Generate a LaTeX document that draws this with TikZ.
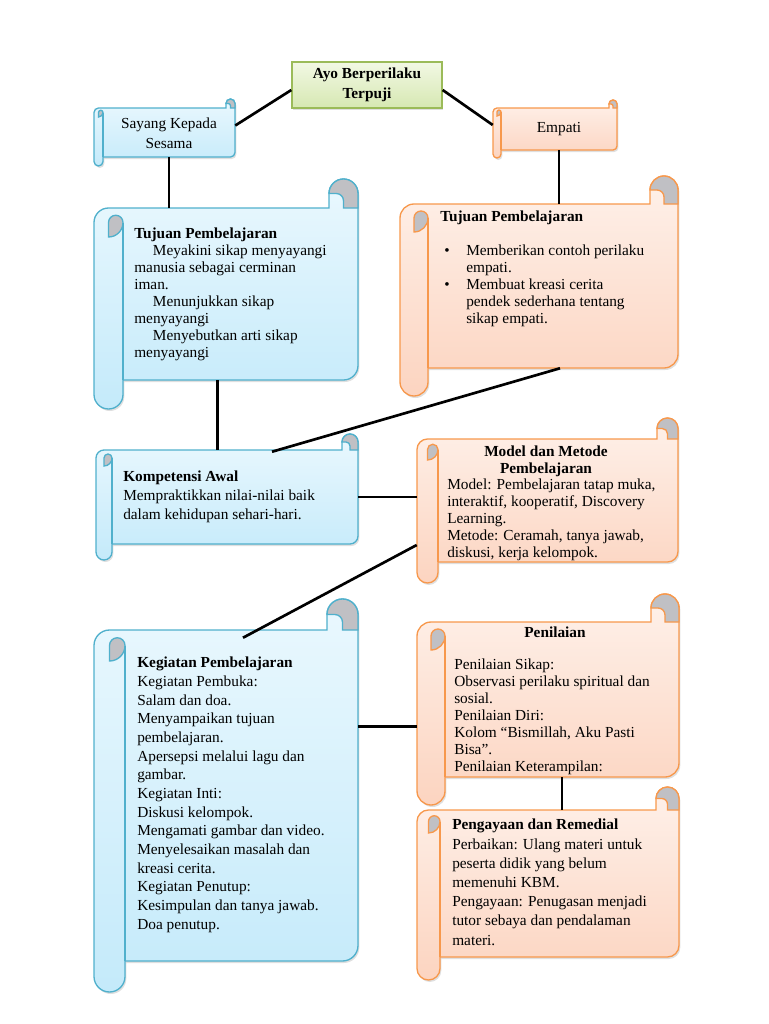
\documentclass[tikz,border=0pt]{standalone}
\usepackage{fontspec}
\setmainfont{Liberation Serif}
\usepackage{tikz}
\usetikzlibrary{positioning, calc, fit, shadows}

\definecolor{blueline}{RGB}{80,176,204}
\definecolor{bluetop}{RGB}{234,248,254}
\definecolor{bluebot}{RGB}{196,234,250}
\definecolor{orangeline}{RGB}{247,152,76}
\definecolor{orangetop}{RGB}{254,241,234}
\definecolor{orangebot}{RGB}{252,212,192}
\definecolor{greenline}{RGB}{155,187,89}
\definecolor{greentop}{RGB}{242,248,228}
\definecolor{greenbot}{RGB}{214,232,178}
\definecolor{curl}{RGB}{192,192,196}

\tikzset{
	link/.style={line width=2pt, black},
	rim/.style={line width=1pt},
	txt/.style={inner sep=0pt, anchor=north west, align=left, font=\fontsize{11.5}{#1}\selectfont},
	head/.style={inner sep=0pt, anchor=north, align=center, font=\fontsize{11.5}{#1}\selectfont\bfseries},
	titlebox/.style={draw=greenline, rim, top color=greentop, bottom color=greenbot, align=center, font=\fontsize{11.5}{15}\selectfont\bfseries, drop shadow={opacity=0.25, shadow xshift=1pt, shadow yshift=-1.5pt}},
}

% horizontal scroll: name, left, top, right, bottom, roll size, colour
\newcommand{\scrollbox}[7]{%
	\pgfmathsetmacro{\sbH}{#6/2}
	\pgfmathsetmacro{\sbQ}{#6/4}
	\pgfmathsetmacro{\sbYa}{-(#3+#6/2)}
	\pgfmathsetmacro{\sbYn}{-(#3+#6*0.75)}
	\pgfmathsetmacro{\sbYb}{-(#3+#6)}
	\pgfmathsetmacro{\sbYc}{-(#3+1.5*#6)}
	\pgfmathsetmacro{\sbYd}{-(#3+2*#6)}
	\pgfmathsetmacro{\sbYe}{-(#5-#6)}
	\pgfmathsetmacro{\sbYf}{-(#5-#6/2)}
	\pgfmathsetmacro{\sbYg}{-(#5-1.5*#6)}
	\pgfmathsetmacro{\sbXa}{#2+#6/2}
	\pgfmathsetmacro{\sbXb}{#2+#6}
	\pgfmathsetmacro{\sbXc}{#4-#6}
	\pgfmathsetmacro{\sbXd}{#4-#6/2}
	\path[rim, draw=#7line, top color=#7top, bottom color=#7bot, drop shadow={opacity=0.25, shadow xshift=1pt, shadow yshift=-1.5pt}]
		(#2,\sbYc) arc (180:90:\sbH) -- (\sbXc,\sbYb) -- (\sbXc,\sbYa) arc (180:0:\sbH)
		-- (#4,\sbYg) arc (0:-90:\sbH) -- (\sbXb,\sbYe) -- (\sbXb,\sbYf) arc (0:-180:\sbH) -- cycle;
	\draw[rim, draw=#7line, fill=curl] (\sbXc,\sbYa) arc (180:0:\sbH) -- (#4,\sbYb) -- (\sbXd,\sbYb) -- (\sbXd,\sbYn) arc (0:90:\sbQ) -- cycle;
	\draw[rim, draw=#7line, fill=curl] (\sbXa,\sbYd) -- (\sbXa,\sbYc) arc (180:0:\sbQ) -- (\sbXb,\sbYc) arc (0:-90:\sbH) -- cycle;
	\draw[rim, draw=#7line] (\sbXb,\sbYc) -- (\sbXb,\sbYe);
	\node[fit={(\sbXb,\sbYb) (#4,\sbYe)}, inner sep=0pt] (#1) {};
}

\begin{document}
\begin{tikzpicture}[x=0.75pt, y=0.75pt]
	\useasboundingbox (0,0) rectangle (768,-1024);

	\node[titlebox, minimum width=112.5pt, minimum height=34.5pt] (title) at (367,-85) {Ayo Berperilaku\\Terpuji};

	\scrollbox{sayang}{94}{99}{235}{166}{9}{blue}
	\node[align=center, font=\fontsize{11.5}{15}\selectfont] (sayang-text) at (169,-133) {Sayang Kepada\\Sesama};

	\scrollbox{empati}{493}{100}{617}{158}{8}{orange}
	\node[font=\fontsize{11.5}{15}\selectfont] (empati-text) at (559,-129) {Empati};

	\scrollbox{tujA}{94}{179}{358}{409}{29}{blue}
	\node[txt=12.7] (tujA-text) at (134,-228) {\textbf{Tujuan Pembelajaran}\\
		\hspace*{14pt}Meyakini sikap menyayangi\\
		manusia sebagai cerminan\\
		iman.\\
		\hspace*{14pt}Menunjukkan sikap\\
		menyayangi\\
		\hspace*{14pt}Menyebutkan arti sikap\\
		menyayangi};

	\scrollbox{tujB}{400}{176}{678}{396}{28}{orange}
	\node[txt=12.7] (tujB-head) at (440,-211) {\textbf{Tujuan Pembelajaran}};
	\node[txt=12.75] (tujB-list) at (444,-245) {\makebox[16.5pt][l]{\textbullet}Memberikan contoh perilaku\\
		\hspace*{16.5pt}empati.\\
		\makebox[16.5pt][l]{\textbullet}Membuat kreasi cerita\\
		\hspace*{16.5pt}pendek sederhana tentang\\
		\hspace*{16.5pt}sikap empati.};

	\scrollbox{komp}{96}{434}{358}{560}{16}{blue}
	\node[txt=14.25] (komp-text) at (123,-471) {\textbf{Kompetensi Awal}\\
		Mempraktikkan nilai-nilai baik\\
		dalam kehidupan sehari-hari.};

	\scrollbox{model}{417}{418}{678}{583}{21}{orange}
	\node[head=12.4] (model-head) at (546,-446) {Model dan Metode\\Pembelajaran};
	\node[txt=12.6] (model-text) at (447,-479) {Model: Pembelajaran tatap muka,\\
		interaktif, kooperatif, Discovery\\
		Learning.\\
		Metode: Ceramah, tanya jawab,\\
		diskusi, kerja kelompok.};

	\scrollbox{kegiatan}{94}{599}{358}{992}{31}{blue}
	\node[txt=14] (keg-text) at (137,-657) {\textbf{Kegiatan Pembelajaran}\\
		Kegiatan Pembuka:\\
		Salam dan doa.\\
		Menyampaikan tujuan\\
		pembelajaran.\\
		Apersepsi melalui lagu dan\\
		gambar.\\
		Kegiatan Inti:\\
		Diskusi kelompok.\\
		Mengamati gambar dan video.\\
		Menyelesaikan masalah dan\\
		kreasi cerita.\\
		Kegiatan Penutup:\\
		Kesimpulan dan tanya jawab.\\
		Doa penutup.};

	\scrollbox{penilaian}{417}{594}{679}{805}{28}{orange}
	\node[head=12.75] (pen-head) at (555,-627) {Penilaian};
	\node[txt=12.75] (pen-text) at (454,-659) {Penilaian Sikap:\\
		Observasi perilaku spiritual dan\\
		sosial.\\
		Penilaian Diri:\\
		Kolom “Bismillah, Aku Pasti\\
		Bisa”.\\
		Penilaian Keterampilan:};

	\scrollbox{pengayaan}{417}{787}{679}{980}{23}{orange}
	\node[txt=14.4] (peng-text) at (452,-819) {\textbf{Pengayaan dan Remedial}\\
		Perbaikan: Ulang materi untuk\\
		peserta didik yang belum\\
		memenuhi KBM.\\
		Pengayaan: Penugasan menjadi\\
		tutor sebaya dan pendalaman\\
		materi.};

	% connectors
	\draw[link] ($(title.west)+(0,-5)$) -- ($(sayang.east)+(0,7)$);
	\draw[link] ($(title.east)+(0,-5)$) -- ($(empati.west)+(-8,4)$);
	\draw[link] (sayang.south) -- (sayang.south |- tujA.north);
	\draw[link] (empati.south) -- (empati.south |- tujB.north);
	\draw[link] ($(tujA.south)+(-23,0)$) coordinate (tA) -- (tA |- komp.north);
	\draw[link] ($(tujB.south)+(7,0)$) -- ($(komp.north)+(37,-2)$);
	\draw[link] (komp.east) -- ($(komp.east -| model.west)+(-21,0)$);
	\draw[link] ($(model.west)+(-21,-44.5)$) -- ($(kegiatan.north)+(1.5,-8)$);
	\draw[link] ($(kegiatan.east)+(0,69)$) coordinate (kA) -- ($(kA -| penilaian.west)+(-28,0)$);
	\draw[link] (penilaian.south) -- (penilaian.south |- pengayaan.north);

\end{tikzpicture}
\end{document}
